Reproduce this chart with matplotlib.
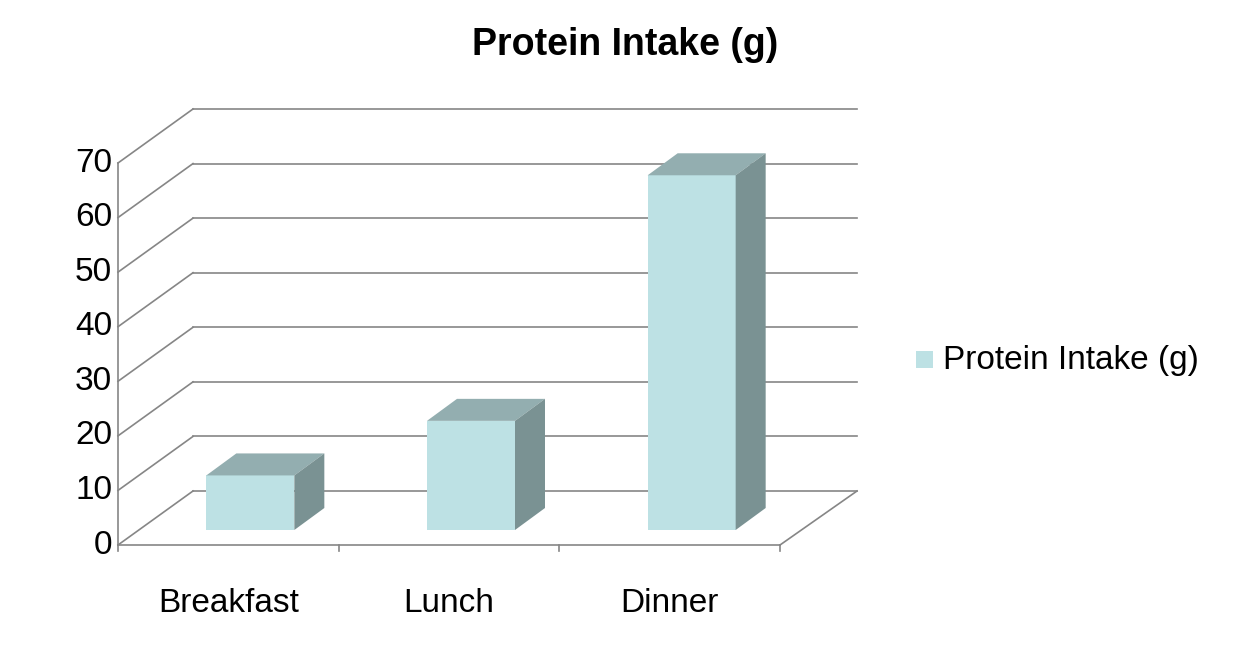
import matplotlib
matplotlib.use("Agg")
import matplotlib.pyplot as plt
from matplotlib.patches import Polygon, Rectangle

categories = ["Breakfast", "Lunch", "Dinner"]
values = [10, 20, 65]
yticks = [0, 10, 20, 30, 40, 50, 60, 70]
title = "Protein Intake (g)"

plt.rcParams['font.family'] = ['Liberation Sans', 'DejaVu Sans']
fig = plt.figure(figsize=(12.52, 6.52), dpi=100)
ax = fig.add_axes([0, 0, 1, 1])
ax.set_xlim(0, 1252); ax.set_ylim(652, 0); ax.axis('off')

grid = '#868686'
x0, x1 = 118, 780      # front floor line
y0 = 545               # front zero
unit = (545 - 163) / 70.0
dx, dy = 75, -54       # depth offset

def fy(v):
    return y0 - v * unit

for v in yticks:
    y = fy(v)
    ax.plot([x0 + dx, x1 + 77], [y + dy, y + dy], color=grid, lw=1.2)
    ax.plot([x0, x0 + dx], [y, y + dy], color=grid, lw=1.2)
    ax.text(x0 - 6, y, str(v), ha='right', va='center', fontsize=24)
ax.plot([x0, x0], [fy(70), y0], color=grid, lw=1.2)
ax.plot([x0, x1], [y0, y0], color=grid, lw=1.2)
ax.plot([x1, x1 + 77], [y0, y0 + dy], color=grid, lw=1.2)
ax.plot([x0, x0], [y0, y0 + 6], color=grid, lw=1.2)
step = (x1 - x0) / len(categories)
for i, c in enumerate(categories):
    ax.plot([x0 + step * (i + 1)] * 2, [y0, y0 + 6], color=grid, lw=1.2)
    ax.text(x0 + step * (i + 0.5), 603, c, ha='center', va='center', fontsize=24)

bw = 88
bdx, bdy = 30, -22
base = 530
for i, v in enumerate(values):
    left = x0 + step * (i + 0.5) - 22
    top = base - v * unit
    ax.add_patch(Rectangle((left, top), bw, base - top, fc='#BDE1E4', ec='none', zorder=3))
    ax.add_patch(Polygon([(left, top), (left + bdx, top + bdy), (left + bw + bdx, top + bdy),
                          (left + bw, top)], fc='#93AEB0', ec='none', zorder=3))
    ax.add_patch(Polygon([(left + bw, top), (left + bw + bdx, top + bdy), (left + bw + bdx, base + bdy),
                          (left + bw, base)], fc='#7A9293', ec='none', zorder=3))

ax.text(625, 45, title, ha='center', va='center', fontsize=27, fontweight='bold')
ax.add_patch(Rectangle((916, 351), 17, 17, fc='#BDE1E4', ec='none'))
ax.text(943, 360, title, ha='left', va='center', fontsize=24)

fig.savefig("out.png", dpi=100)
